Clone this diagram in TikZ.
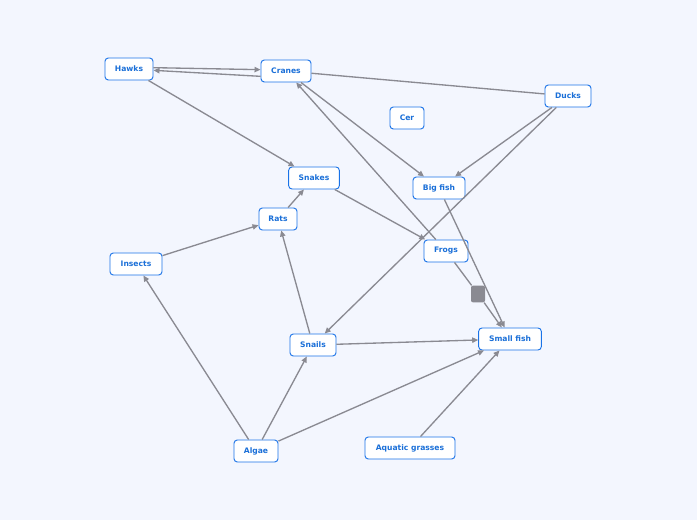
\documentclass[tikz,border=0pt]{standalone}
\usepackage{fontspec}
\setmainfont{DejaVu Sans}
\usetikzlibrary{arrows.meta}
\definecolor{bg}{HTML}{F3F6FE}
\definecolor{nb}{HTML}{1A73E8}
\definecolor{nt}{HTML}{1A6FD8}
\definecolor{ln}{HTML}{8A8A92}
\begin{document}
\begin{tikzpicture}[x=0.75pt,y=-0.75pt,
  nd/.style={draw=nb,fill=white,rounded corners=2.5pt,line width=0.7pt,minimum height=16.5pt,inner xsep=0pt,text=nt,font=\fontsize{5.7}{6}\selectfont\bfseries},
  ar/.style={draw=ln,line width=1pt,-{Triangle[length=4.5pt,width=4pt]}},
  pl/.style={draw=ln,line width=1pt}]
\fill[bg] (0,0) rectangle (697,520);
\useasboundingbox (0,0) rectangle (697,520);
\node[nd,minimum width=36pt] (hawks) at (129,69) {Hawks};
\node[nd,minimum width=37.5pt] (cranes) at (286,71) {Cranes};
\node[nd,minimum width=34.5pt] (ducks) at (568,96) {Ducks};
\node[nd,minimum width=25.5pt] (cer) at (407,118) {Cer};
\node[nd,minimum width=38pt] (snakes) at (314,178) {Snakes};
\node[nd,minimum width=39pt] (bigfish) at (439,188) {Big fish};
\node[nd,minimum width=28.5pt] (rats) at (278,219) {Rats};
\node[nd,minimum width=39pt] (insects) at (136,264) {Insects};
\node[nd,minimum width=33pt] (frogs) at (446,251) {Frogs};
\node[nd,minimum width=47pt] (smallfish) at (510,339) {Small fish};
\node[nd,minimum width=34.5pt] (snails) at (313,345) {Snails};
\node[nd,minimum width=33pt] (algae) at (256,451) {Algae};
\node[nd,minimum width=67.5pt] (grasses) at (410,448) {Aquatic grasses};
\node[fill=ln,rounded corners=1.5pt,minimum width=10.5pt,minimum height=12.5pt,inner sep=0pt] (sq) at (478,294) {};
\draw[ar] ([yshift=1pt]hawks.east) -- ([yshift=1pt]cranes.west);
\draw[ar] ([yshift=-4pt]cranes.west) -- ([yshift=-1pt]hawks.east);
\draw[ar] (hawks) -- (snakes);
\draw[pl] (ducks) -- (cranes);
\draw[ar] (cranes) -- (bigfish);
\draw[ar] (frogs) -- (cranes);
\draw[ar] (ducks) -- (bigfish);
\draw[ar] (ducks) -- (snails);
\draw[ar] (rats) -- (snakes);
\draw[ar] (snakes) -- (frogs);
\draw[ar] (bigfish) -- (smallfish);
\draw[pl] (frogs) -- (sq);
\draw[ar] (sq) -- (smallfish);
\draw[ar] (insects) -- (rats);
\draw[ar] (snails) -- (rats);
\draw[ar] (snails) -- (smallfish);
\draw[ar] (algae) -- (insects);
\draw[ar] (algae) -- (snails);
\draw[ar] (algae) -- (smallfish);
\draw[ar] (grasses) -- (smallfish);
\end{tikzpicture}
\end{document}
